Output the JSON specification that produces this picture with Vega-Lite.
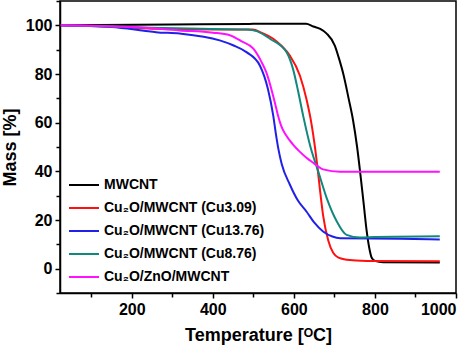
{
  "$schema": "https://vega.github.io/schema/vega-lite/v6.json",
  "autosize": {"type": "none"},
  "width": 396,
  "height": 292,
  "padding": {"left": 60, "top": 1, "right": 18, "bottom": 58},
  "background": "white",
  "config": {
    "view": {"stroke": "black", "strokeWidth": 1.5},
    "font": "Liberation Sans",
    "axis": {"domainColor": "black", "domainWidth": 1.5, "tickColor": "black", "tickWidth": 1.5, "labelFont": "Liberation Sans", "labelFontWeight": "bold", "labelFontSize": 16, "labelColor": "black", "titleFont": "Liberation Sans", "titleFontWeight": "bold", "titleFontSize": 18, "titleColor": "black", "grid": false}
  },
  "data": {"values": [
    {"s": "MWCNT", "t": 25, "m": 100}, {"s": "MWCNT", "t": 300, "m": 100.3}, {"s": "MWCNT", "t": 500, "m": 100.6}, {"s": "MWCNT", "t": 630, "m": 100.6}, {"s": "MWCNT", "t": 648, "m": 99.5}, {"s": "MWCNT", "t": 665, "m": 98.5}, {"s": "MWCNT", "t": 681, "m": 96.6}, {"s": "MWCNT", "t": 701, "m": 91.7}, {"s": "MWCNT", "t": 712, "m": 86}, {"s": "MWCNT", "t": 722, "m": 80}, {"s": "MWCNT", "t": 735, "m": 70}, {"s": "MWCNT", "t": 746, "m": 61}, {"s": "MWCNT", "t": 756, "m": 50}, {"s": "MWCNT", "t": 764, "m": 39}, {"s": "MWCNT", "t": 772, "m": 27}, {"s": "MWCNT", "t": 780, "m": 15}, {"s": "MWCNT", "t": 786, "m": 8.5}, {"s": "MWCNT", "t": 792, "m": 4.5}, {"s": "MWCNT", "t": 800, "m": 3.2}, {"s": "MWCNT", "t": 820, "m": 2.6}, {"s": "MWCNT", "t": 960, "m": 2.5},
    {"s": "Cu₂O/MWCNT (Cu3.09)", "t": 25, "m": 100}, {"s": "Cu₂O/MWCNT (Cu3.09)", "t": 150, "m": 99.5}, {"s": "Cu₂O/MWCNT (Cu3.09)", "t": 250, "m": 98.6}, {"s": "Cu₂O/MWCNT (Cu3.09)", "t": 400, "m": 98.3}, {"s": "Cu₂O/MWCNT (Cu3.09)", "t": 499, "m": 98.3}, {"s": "Cu₂O/MWCNT (Cu3.09)", "t": 520, "m": 97}, {"s": "Cu₂O/MWCNT (Cu3.09)", "t": 549, "m": 94.5}, {"s": "Cu₂O/MWCNT (Cu3.09)", "t": 570, "m": 91.5}, {"s": "Cu₂O/MWCNT (Cu3.09)", "t": 590, "m": 87.6}, {"s": "Cu₂O/MWCNT (Cu3.09)", "t": 615, "m": 79.3}, {"s": "Cu₂O/MWCNT (Cu3.09)", "t": 631, "m": 69.7}, {"s": "Cu₂O/MWCNT (Cu3.09)", "t": 644, "m": 59}, {"s": "Cu₂O/MWCNT (Cu3.09)", "t": 652, "m": 50}, {"s": "Cu₂O/MWCNT (Cu3.09)", "t": 658, "m": 42}, {"s": "Cu₂O/MWCNT (Cu3.09)", "t": 664, "m": 33}, {"s": "Cu₂O/MWCNT (Cu3.09)", "t": 672, "m": 22}, {"s": "Cu₂O/MWCNT (Cu3.09)", "t": 685, "m": 11.5}, {"s": "Cu₂O/MWCNT (Cu3.09)", "t": 697, "m": 6.5}, {"s": "Cu₂O/MWCNT (Cu3.09)", "t": 710, "m": 4.5}, {"s": "Cu₂O/MWCNT (Cu3.09)", "t": 730, "m": 3.7}, {"s": "Cu₂O/MWCNT (Cu3.09)", "t": 780, "m": 3.2}, {"s": "Cu₂O/MWCNT (Cu3.09)", "t": 960, "m": 3},
    {"s": "Cu₂O/MWCNT (Cu13.76)", "t": 25, "m": 100}, {"s": "Cu₂O/MWCNT (Cu13.76)", "t": 150, "m": 99.3}, {"s": "Cu₂O/MWCNT (Cu13.76)", "t": 230, "m": 97.8}, {"s": "Cu₂O/MWCNT (Cu13.76)", "t": 260, "m": 97.2}, {"s": "Cu₂O/MWCNT (Cu13.76)", "t": 318, "m": 96.6}, {"s": "Cu₂O/MWCNT (Cu13.76)", "t": 417, "m": 93.8}, {"s": "Cu₂O/MWCNT (Cu13.76)", "t": 450, "m": 91.8}, {"s": "Cu₂O/MWCNT (Cu13.76)", "t": 483, "m": 89}, {"s": "Cu₂O/MWCNT (Cu13.76)", "t": 516, "m": 83.5}, {"s": "Cu₂O/MWCNT (Cu13.76)", "t": 536, "m": 73.8}, {"s": "Cu₂O/MWCNT (Cu13.76)", "t": 549, "m": 63}, {"s": "Cu₂O/MWCNT (Cu13.76)", "t": 556, "m": 55}, {"s": "Cu₂O/MWCNT (Cu13.76)", "t": 562, "m": 49}, {"s": "Cu₂O/MWCNT (Cu13.76)", "t": 570, "m": 43}, {"s": "Cu₂O/MWCNT (Cu13.76)", "t": 590, "m": 34.6}, {"s": "Cu₂O/MWCNT (Cu13.76)", "t": 610, "m": 28}, {"s": "Cu₂O/MWCNT (Cu13.76)", "t": 631, "m": 23.5}, {"s": "Cu₂O/MWCNT (Cu13.76)", "t": 650, "m": 19}, {"s": "Cu₂O/MWCNT (Cu13.76)", "t": 672, "m": 15.3}, {"s": "Cu₂O/MWCNT (Cu13.76)", "t": 695, "m": 13.2}, {"s": "Cu₂O/MWCNT (Cu13.76)", "t": 714, "m": 12.5}, {"s": "Cu₂O/MWCNT (Cu13.76)", "t": 862, "m": 12.3}, {"s": "Cu₂O/MWCNT (Cu13.76)", "t": 960, "m": 12},
    {"s": "Cu₂O/MWCNT (Cu8.76)", "t": 25, "m": 100}, {"s": "Cu₂O/MWCNT (Cu8.76)", "t": 250, "m": 99}, {"s": "Cu₂O/MWCNT (Cu8.76)", "t": 400, "m": 98.5}, {"s": "Cu₂O/MWCNT (Cu8.76)", "t": 483, "m": 98.3}, {"s": "Cu₂O/MWCNT (Cu8.76)", "t": 510, "m": 97.5}, {"s": "Cu₂O/MWCNT (Cu8.76)", "t": 541, "m": 94.5}, {"s": "Cu₂O/MWCNT (Cu8.76)", "t": 582, "m": 89}, {"s": "Cu₂O/MWCNT (Cu8.76)", "t": 598, "m": 82}, {"s": "Cu₂O/MWCNT (Cu8.76)", "t": 611, "m": 72.5}, {"s": "Cu₂O/MWCNT (Cu8.76)", "t": 623, "m": 62.8}, {"s": "Cu₂O/MWCNT (Cu8.76)", "t": 641, "m": 50}, {"s": "Cu₂O/MWCNT (Cu8.76)", "t": 660, "m": 40}, {"s": "Cu₂O/MWCNT (Cu8.76)", "t": 681, "m": 29}, {"s": "Cu₂O/MWCNT (Cu8.76)", "t": 706, "m": 19.4}, {"s": "Cu₂O/MWCNT (Cu8.76)", "t": 730, "m": 13.9}, {"s": "Cu₂O/MWCNT (Cu8.76)", "t": 763, "m": 12.8}, {"s": "Cu₂O/MWCNT (Cu8.76)", "t": 800, "m": 13}, {"s": "Cu₂O/MWCNT (Cu8.76)", "t": 960, "m": 13.3},
    {"s": "Cu₂O/ZnO/MWCNT", "t": 25, "m": 100}, {"s": "Cu₂O/ZnO/MWCNT", "t": 200, "m": 99.3}, {"s": "Cu₂O/ZnO/MWCNT", "t": 318, "m": 97.9}, {"s": "Cu₂O/ZnO/MWCNT", "t": 400, "m": 97}, {"s": "Cu₂O/ZnO/MWCNT", "t": 442, "m": 95.9}, {"s": "Cu₂O/ZnO/MWCNT", "t": 470, "m": 93.5}, {"s": "Cu₂O/ZnO/MWCNT", "t": 500, "m": 90.4}, {"s": "Cu₂O/ZnO/MWCNT", "t": 520, "m": 85}, {"s": "Cu₂O/ZnO/MWCNT", "t": 532, "m": 80.7}, {"s": "Cu₂O/ZnO/MWCNT", "t": 553, "m": 68.3}, {"s": "Cu₂O/ZnO/MWCNT", "t": 560, "m": 63.5}, {"s": "Cu₂O/ZnO/MWCNT", "t": 568, "m": 59}, {"s": "Cu₂O/ZnO/MWCNT", "t": 580, "m": 55}, {"s": "Cu₂O/ZnO/MWCNT", "t": 598, "m": 51}, {"s": "Cu₂O/ZnO/MWCNT", "t": 615, "m": 48}, {"s": "Cu₂O/ZnO/MWCNT", "t": 631, "m": 45.6}, {"s": "Cu₂O/ZnO/MWCNT", "t": 648, "m": 43.5}, {"s": "Cu₂O/ZnO/MWCNT", "t": 672, "m": 40.8}, {"s": "Cu₂O/ZnO/MWCNT", "t": 714, "m": 39.8}, {"s": "Cu₂O/ZnO/MWCNT", "t": 960, "m": 39.8}
  ]},
  "layer": [
    {
      "mark": {"type": "line", "interpolate": "monotone", "strokeWidth": 2},
      "encoding": {
        "x": {"field": "t", "type": "quantitative", "scale": {"domain": [23, 1000], "nice": false, "zero": false}, "axis": {"title": "Temperature [ᴼC]", "format": "d", "values": [200, 400, 600, 800, 1000], "tickSize": 5, "labelPadding": 3, "titlePadding": 9}},
        "y": {"field": "m", "type": "quantitative", "scale": {"domain": [-10, 110], "nice": false}, "axis": {"title": "Mass [%]", "values": [0, 20, 40, 60, 80, 100], "tickSize": 5, "labelPadding": 3, "titlePadding": 6}},
        "color": {"field": "s", "type": "nominal", "sort": null,
          "scale": {"domain": ["MWCNT", "Cu₂O/MWCNT (Cu3.09)", "Cu₂O/MWCNT (Cu13.76)", "Cu₂O/MWCNT (Cu8.76)", "Cu₂O/ZnO/MWCNT"], "range": ["#000000", "#ff1010", "#2020e8", "#12877c", "#ff10ff"]},
          "legend": {"title": null, "orient": "none", "legendX": 8, "legendY": 168, "symbolType": "stroke", "symbolStrokeWidth": 2, "symbolSize": 900, "labelFont": "Liberation Sans", "labelFontWeight": "bold", "labelFontSize": 14, "labelColor": "black", "labelLimit": 0, "rowPadding": -4.5, "labelOffset": 4}}
      }
    },
    {
      "mark": {"type": "rule", "opacity": 0},
      "encoding": {
        "x": {"field": "t", "type": "quantitative", "axis": {"title": null, "labels": false, "domain": false, "values": [100, 300, 500, 700, 900], "tickSize": 4, "orient": "bottom"}},
        "y": {"field": "m", "type": "quantitative", "axis": {"title": null, "labels": false, "domain": false, "values": [-10, 10, 30, 50, 70, 90, 110], "tickSize": 4, "orient": "left"}}
      }
    }
  ],
  "resolve": {"axis": {"x": "independent", "y": "independent"}}
}
